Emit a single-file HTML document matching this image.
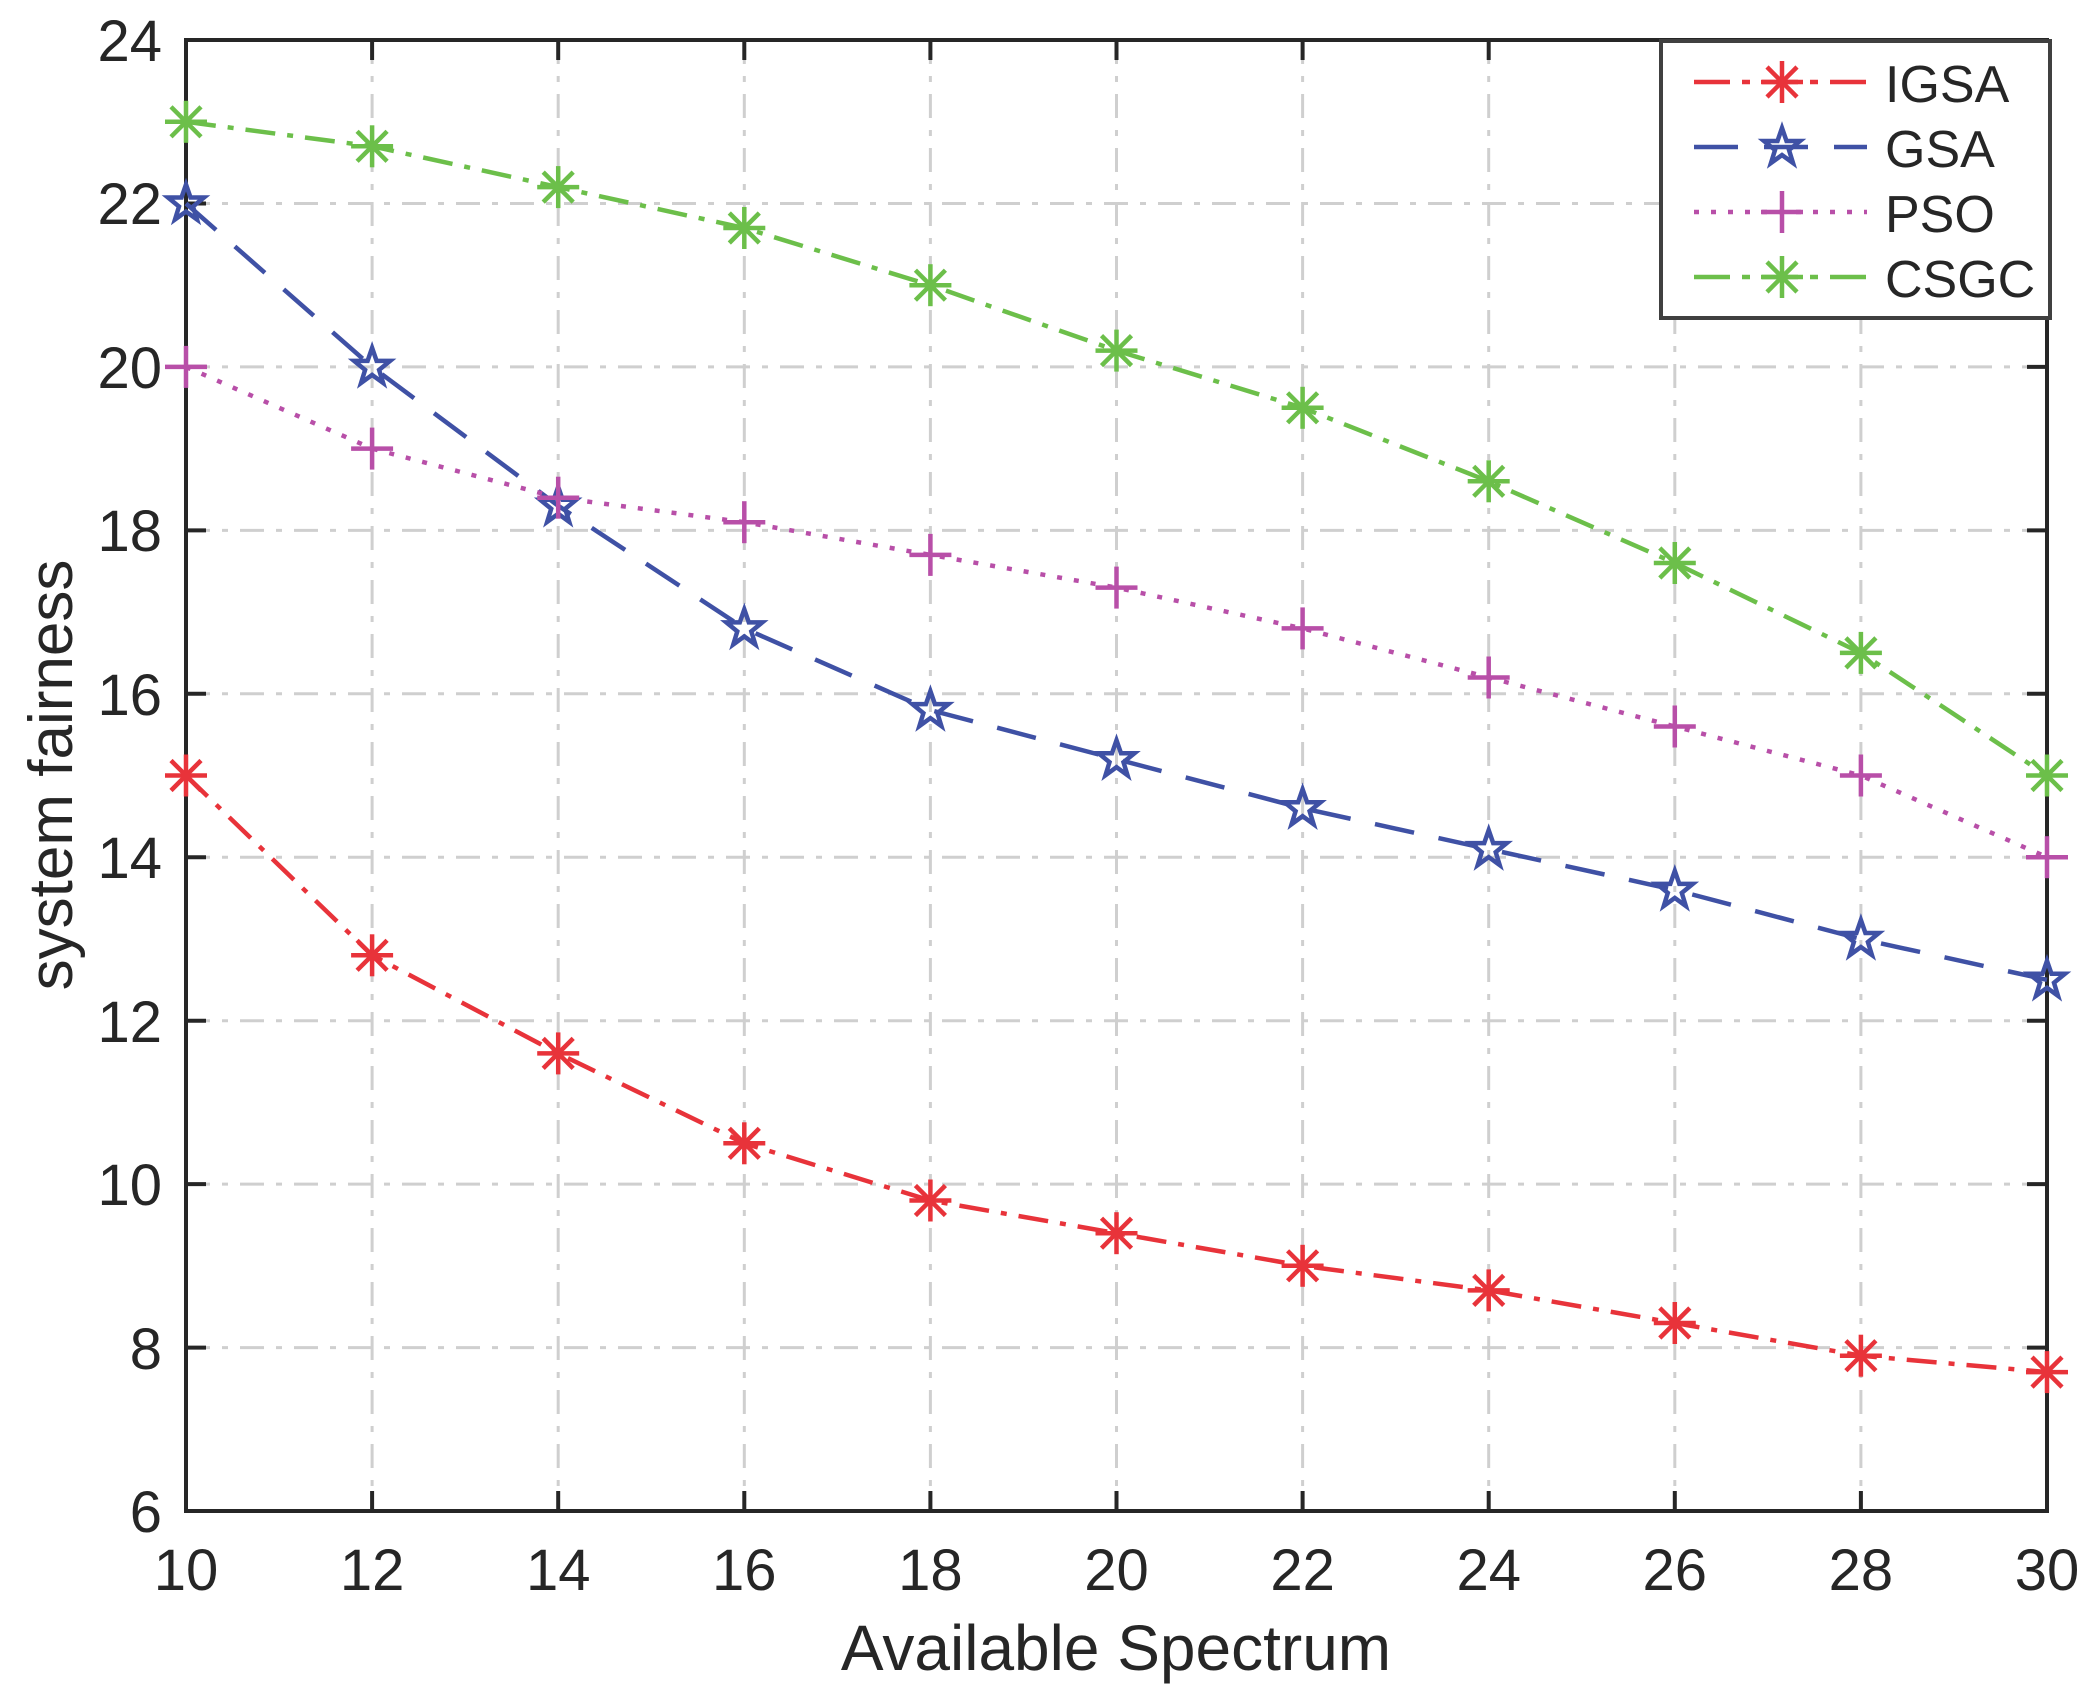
<!DOCTYPE html>
<html><head><meta charset="utf-8"><style>html,body{margin:0;padding:0;background:#fff;}svg{display:block;}</style></head>
<body>
<svg width="2095" height="1705" viewBox="0 0 2095 1705" xmlns="http://www.w3.org/2000/svg" font-family="Liberation Sans, Arial, sans-serif">
<defs>
<g id="ast" stroke-width="4.5" fill="none"><line x1="-21" y1="0" x2="21" y2="0"/><line x1="0" y1="-21" x2="0" y2="21"/><line x1="-15" y1="-15" x2="15" y2="15"/><line x1="-15" y1="15" x2="15" y2="-15"/></g>
<g id="star" stroke-width="4.5" fill="none"><polygon points="0,-19 4.5,-6 18,-6 7,3 11,16 0,8 -11,16 -7,3 -18,-6 -4.5,-6"/></g>
<g id="plus" stroke-width="4.5" fill="none"><line x1="-21" y1="0" x2="21" y2="0"/><line x1="0" y1="-21" x2="0" y2="21"/></g>
</defs>
<g stroke="#cfcfcf" stroke-width="3" stroke-dasharray="24,12,6,12" fill="none">
<line x1="372.1" y1="40" x2="372.1" y2="1511"/><line x1="558.2" y1="40" x2="558.2" y2="1511"/><line x1="744.3" y1="40" x2="744.3" y2="1511"/><line x1="930.4" y1="40" x2="930.4" y2="1511"/><line x1="1116.5" y1="40" x2="1116.5" y2="1511"/><line x1="1302.6" y1="40" x2="1302.6" y2="1511"/><line x1="1488.7" y1="40" x2="1488.7" y2="1511"/><line x1="1674.8" y1="40" x2="1674.8" y2="1511"/><line x1="1860.9" y1="40" x2="1860.9" y2="1511"/>
<line x1="186" y1="1347.6" x2="2047" y2="1347.6"/><line x1="186" y1="1184.1" x2="2047" y2="1184.1"/><line x1="186" y1="1020.7" x2="2047" y2="1020.7"/><line x1="186" y1="857.2" x2="2047" y2="857.2"/><line x1="186" y1="693.8" x2="2047" y2="693.8"/><line x1="186" y1="530.4" x2="2047" y2="530.4"/><line x1="186" y1="366.9" x2="2047" y2="366.9"/><line x1="186" y1="203.5" x2="2047" y2="203.5"/>
</g>
<g stroke="#262626" stroke-width="4">
<rect x="186" y="40" width="1861" height="1471" fill="none"/>
<path d="M372.1,1511v-20M558.2,1511v-20M744.3,1511v-20M930.4,1511v-20M1116.5,1511v-20M1302.6,1511v-20M1488.7,1511v-20M1674.8,1511v-20M1860.9,1511v-20M372.1,40v20M558.2,40v20M744.3,40v20M930.4,40v20M1116.5,40v20M1302.6,40v20M1488.7,40v20M1674.8,40v20M1860.9,40v20"/>
<path d="M186,1347.6h20M186,1184.1h20M186,1020.7h20M186,857.2h20M186,693.8h20M186,530.4h20M186,366.9h20M186,203.5h20M2047,1347.6h-20M2047,1184.1h-20M2047,1020.7h-20M2047,857.2h-20M2047,693.8h-20M2047,530.4h-20M2047,366.9h-20M2047,203.5h-20"/>
</g>
<g font-size="58" fill="#262626" text-anchor="middle">
<text x="186" y="1590">10</text><text x="372.1" y="1590">12</text><text x="558.2" y="1590">14</text><text x="744.3" y="1590">16</text><text x="930.4" y="1590">18</text><text x="1116.5" y="1590">20</text><text x="1302.6" y="1590">22</text><text x="1488.7" y="1590">24</text><text x="1674.8" y="1590">26</text><text x="1860.9" y="1590">28</text><text x="2047" y="1590">30</text>
</g>
<g font-size="58" fill="#262626" text-anchor="end">
<text x="162" y="1532">6</text><text x="162" y="1369">8</text><text x="162" y="1205">10</text><text x="162" y="1042">12</text><text x="162" y="878">14</text><text x="162" y="715">16</text><text x="162" y="551">18</text><text x="162" y="388">20</text><text x="162" y="224">22</text><text x="162" y="61">24</text>
</g>
<text x="1116" y="1670" font-size="64" fill="#262626" text-anchor="middle">Available Spectrum</text>
<text transform="translate(72,775) rotate(-90)" font-size="62" fill="#262626" text-anchor="middle">system fairness</text>

<g fill="none" stroke-width="4.5">
<polyline stroke="#e8333a" stroke-dasharray="30,12,6,12" points="186,775.5 372.1,955.3 558.2,1053.4 744.3,1143.3 930.4,1200.5 1116.5,1233.2 1302.6,1265.8 1488.7,1290.4 1674.8,1323 1860.9,1355.7 2047,1372.1"/>
<polyline stroke="#3f51a5" stroke-dasharray="40,25" points="186,203.5 372.1,366.9 558.2,505.8 744.3,628.4 930.4,710.1 1116.5,759.2 1302.6,808.2 1488.7,849.1 1674.8,889.9 1860.9,939 2047,979.8"/>
<polyline stroke="#b84fa8" stroke-dasharray="5,12" points="186,366.9 372.1,448.6 558.2,497.7 744.3,522.2 930.4,554.9 1116.5,587.6 1302.6,628.4 1488.7,677.5 1674.8,726.5 1860.9,775.5 2047,857.2"/>
<polyline stroke="#6cbf4a" stroke-dasharray="30,12,6,12" points="186,121.8 372.1,146.3 558.2,187.1 744.3,228 930.4,285.2 1116.5,350.6 1302.6,407.8 1488.7,481.3 1674.8,563 1860.9,652.9 2047,775.5"/>
</g>
<g stroke="#e8333a"><use href="#ast" x="186" y="775.5"/><use href="#ast" x="372.1" y="955.3"/><use href="#ast" x="558.2" y="1053.4"/><use href="#ast" x="744.3" y="1143.3"/><use href="#ast" x="930.4" y="1200.5"/><use href="#ast" x="1116.5" y="1233.2"/><use href="#ast" x="1302.6" y="1265.8"/><use href="#ast" x="1488.7" y="1290.4"/><use href="#ast" x="1674.8" y="1323"/><use href="#ast" x="1860.9" y="1355.7"/><use href="#ast" x="2047" y="1372.1"/></g>
<g stroke="#3f51a5"><use href="#star" x="186" y="203.5"/><use href="#star" x="372.1" y="366.9"/><use href="#star" x="558.2" y="505.8"/><use href="#star" x="744.3" y="628.4"/><use href="#star" x="930.4" y="710.1"/><use href="#star" x="1116.5" y="759.2"/><use href="#star" x="1302.6" y="808.2"/><use href="#star" x="1488.7" y="849.1"/><use href="#star" x="1674.8" y="889.9"/><use href="#star" x="1860.9" y="939"/><use href="#star" x="2047" y="979.8"/></g>
<g stroke="#b84fa8"><use href="#plus" x="186" y="366.9"/><use href="#plus" x="372.1" y="448.6"/><use href="#plus" x="558.2" y="497.7"/><use href="#plus" x="744.3" y="522.2"/><use href="#plus" x="930.4" y="554.9"/><use href="#plus" x="1116.5" y="587.6"/><use href="#plus" x="1302.6" y="628.4"/><use href="#plus" x="1488.7" y="677.5"/><use href="#plus" x="1674.8" y="726.5"/><use href="#plus" x="1860.9" y="775.5"/><use href="#plus" x="2047" y="857.2"/></g>
<g stroke="#6cbf4a"><use href="#ast" x="186" y="121.8"/><use href="#ast" x="372.1" y="146.3"/><use href="#ast" x="558.2" y="187.1"/><use href="#ast" x="744.3" y="228"/><use href="#ast" x="930.4" y="285.2"/><use href="#ast" x="1116.5" y="350.6"/><use href="#ast" x="1302.6" y="407.8"/><use href="#ast" x="1488.7" y="481.3"/><use href="#ast" x="1674.8" y="563"/><use href="#ast" x="1860.9" y="652.9"/><use href="#ast" x="2047" y="775.5"/></g>

<rect x="1661" y="41" width="389" height="277" fill="#fff" stroke="#404040" stroke-width="4"/>
<g fill="none" stroke-width="4.5">
<line x1="1694" y1="82" x2="1867" y2="82" stroke="#e8333a" stroke-dasharray="36,12,8,12"/>
<line x1="1694" y1="147" x2="1867" y2="147" stroke="#3f51a5" stroke-dasharray="44,26"/>
<line x1="1694" y1="212" x2="1867" y2="212" stroke="#b84fa8" stroke-dasharray="5,12"/>
<line x1="1694" y1="277" x2="1867" y2="277" stroke="#6cbf4a" stroke-dasharray="36,12,8,12"/>
</g>
<use href="#ast" x="1782" y="82" stroke="#e8333a"/>
<use href="#star" x="1782" y="147" stroke="#3f51a5"/>
<use href="#plus" x="1782" y="212" stroke="#b84fa8"/>
<use href="#ast" x="1782" y="277" stroke="#6cbf4a"/>
<g font-size="52" fill="#262626">
<text x="1885" y="102">IGSA</text><text x="1885" y="167">GSA</text><text x="1885" y="232">PSO</text><text x="1885" y="297">CSGC</text>
</g>
</svg>
</body></html>
